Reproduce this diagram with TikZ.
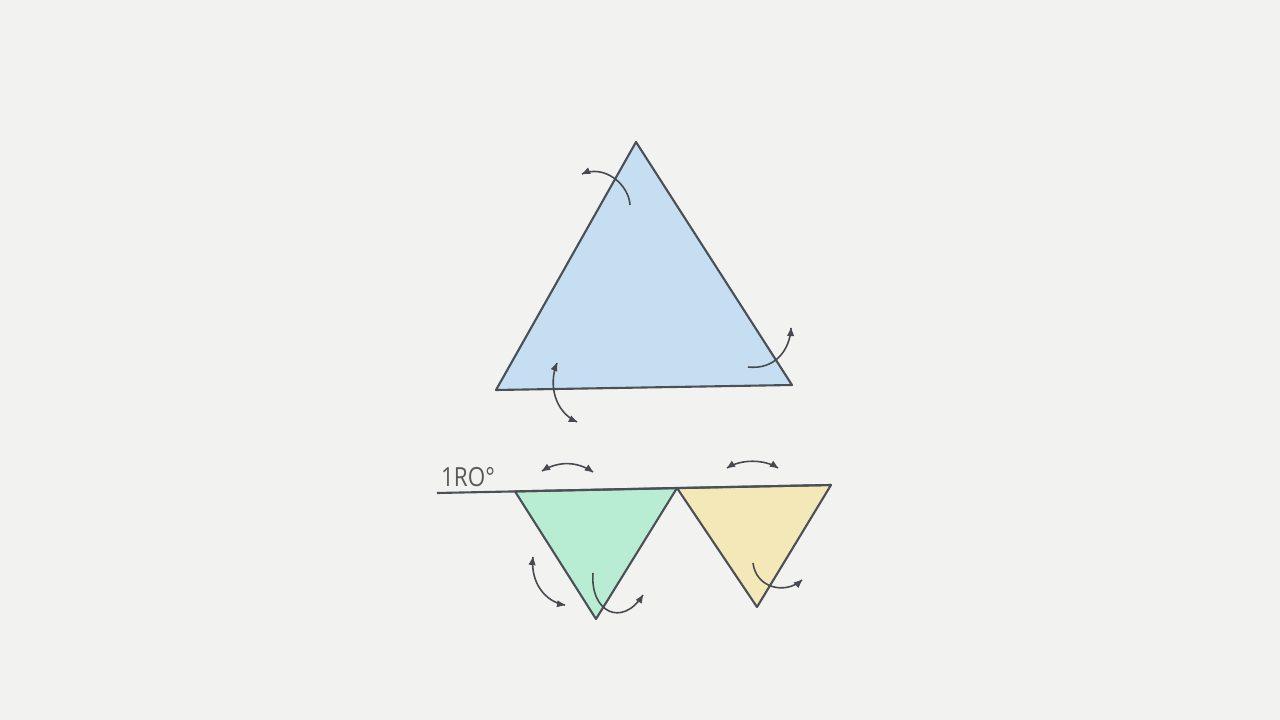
\documentclass[tikz,border=0pt]{standalone}
\usepackage{fontspec}
\setmainfont{Open Sans}
\usepackage{tikz}
\definecolor{paper}{RGB}{242,242,240}
\definecolor{edge}{RGB}{74,80,86}
\definecolor{bluefill}{RGB}{197,222,241}
\definecolor{greenfill}{RGB}{184,237,211}
\definecolor{yellowfill}{RGB}{244,231,184}
\definecolor{arrowgray}{RGB}{70,74,80}
\begin{document}
\begin{tikzpicture}[scale=0.2]
    \tikzstyle{every node}+=[inner sep=0pt]
    \fill [paper] (0,0) rectangle (64,-36);
    \useasboundingbox (0,0) rectangle (64,-36);
    \draw [edge, fill=bluefill, line width=0.6pt, line join=round] (31.8,-7.1) -- (24.8,-19.5) -- (39.6,-19.25) -- cycle;
    \draw [edge, fill=greenfill, line width=0.6pt, line join=round] (25.75,-24.57) -- (33.85,-24.4) -- (29.8,-30.95) -- cycle;
    \draw [edge, fill=yellowfill, line width=0.6pt, line join=round] (33.85,-24.4) -- (41.55,-24.25) -- (37.85,-30.35) -- cycle;
    \draw [edge, line width=0.6pt] (21.85,-24.65) -- (41.55,-24.25);
    \draw (23.4,-23.85) node [xscale=0.85] {\fontsize{7.5}{7.5}\selectfont\color{black!65}1RO°};
    \draw [arrowgray, line width=0.45pt] (31.5,-10.25) .. controls (31.45,-9.25) and (30.25,-8.2) .. (29.1,-8.7);
    \fill [arrowgray] (29.1,-8.7) -- (29.4,-8.38) -- (29.54,-8.7);
    \draw [arrowgray, line width=0.45pt] (37.4,-18.35) .. controls (38.75,-18.5) and (39.5,-17.5) .. (39.55,-16.4);
    \fill [arrowgray] (39.55,-16.4) -- (39.71,-16.81) -- (39.36,-16.79);
    \draw [arrowgray, line width=0.45pt] (27.85,-18.15) .. controls (27.4,-19.25) and (27.75,-20.6) .. (28.85,-21.1);
    \fill [arrowgray] (27.85,-18.15) -- (27.86,-18.59) -- (27.54,-18.45);
    \fill [arrowgray] (28.85,-21.1) -- (28.41,-21.09) -- (28.56,-20.78);
    \draw [arrowgray, line width=0.45pt] (27.1,-23.55) .. controls (27.9,-23.05) and (28.85,-23.05) .. (29.65,-23.6);
    \fill [arrowgray] (27.1,-23.55) -- (27.35,-23.19) -- (27.53,-23.49);
    \fill [arrowgray] (29.65,-23.6) -- (29.22,-23.52) -- (29.42,-23.23);
    \draw [arrowgray, line width=0.45pt] (36.35,-23.4) .. controls (37.05,-22.95) and (38.2,-22.95) .. (38.9,-23.4);
    \fill [arrowgray] (36.35,-23.4) -- (36.59,-23.04) -- (36.78,-23.33);
    \fill [arrowgray] (38.9,-23.4) -- (38.47,-23.33) -- (38.66,-23.04);
    \draw [arrowgray, line width=0.45pt] (26.65,-27.85) .. controls (26.5,-29.1) and (27.25,-30.1) .. (28.25,-30.25);
    \fill [arrowgray] (26.65,-27.85) -- (26.78,-28.27) -- (26.43,-28.23);
    \fill [arrowgray] (28.25,-30.25) -- (27.83,-30.36) -- (27.88,-30.02);
    \draw [arrowgray, line width=0.45pt] (29.65,-28.65) .. controls (29.5,-30.6) and (31.1,-31.4) .. (32.15,-29.75);
    \fill [arrowgray] (32.15,-29.75) -- (32.08,-30.18) -- (31.79,-29.99);
    \draw [arrowgray, line width=0.45pt] (37.65,-28.15) .. controls (37.8,-29.4) and (39.25,-29.75) .. (40.1,-29);
    \fill [arrowgray] (40.1,-29) -- (39.92,-29.4) -- (39.68,-29.13);
\end{tikzpicture}
\end{document}
